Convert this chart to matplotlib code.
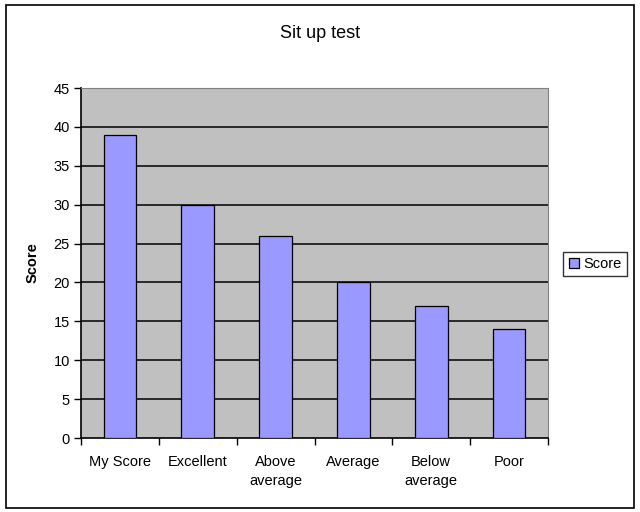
import matplotlib
matplotlib.use("Agg")
import matplotlib.pyplot as plt
from matplotlib.patches import Rectangle
import numpy as np

categories = ["My Score", "Excellent", "Above\naverage", "Average", "Below\naverage", "Poor"]
scores = [39, 30, 26, 20, 17, 14]
yticks = [0, 5, 10, 15, 20, 25, 30, 35, 40, 45]

plt.rcParams['font.family'] = ['Liberation Sans', 'DejaVu Sans']

fig = plt.figure(figsize=(6.4, 5.12), dpi=100)
fig.patch.set_facecolor('white')
fig.patches.append(Rectangle((6/640, 4/512), 628/640, 503/512, transform=fig.transFigure,
                             fill=False, edgecolor='black', linewidth=1.2))

ax = fig.add_axes([81/640, 1-438/512, 467/640, 350/512])
ax.set_facecolor('#C0C0C0')
x = np.arange(len(categories))
bars = ax.bar(x, scores, width=0.42, color='#9999FF', edgecolor='black', linewidth=0.9,
              label='Score', zorder=3)
ax.set_xlim(-0.5, len(categories) - 0.5)
ax.set_ylim(0, 45)
ax.set_yticks(yticks)
ax.set_yticklabels([str(v) for v in yticks], fontsize=10.5)
for v in yticks[1:-1]:
    ax.axhline(v, color='black', linewidth=1.1, zorder=1)

ax.set_xticks(np.arange(len(categories) + 1) - 0.5)
ax.set_xticklabels([])
ax.set_xticks(x, minor=True)
ax.set_xticklabels(categories, minor=True, fontsize=10.5, va='top', linespacing=1.45)
ax.tick_params(axis='x', which='minor', length=0, pad=12)
ax.tick_params(axis='x', which='major', direction='out', length=5, width=1)
ax.tick_params(axis='y', direction='out', length=5, width=1, pad=3)

for s in ['top', 'right']:
    ax.spines[s].set_color('#808080')
    ax.spines[s].set_linewidth(0.8)
for s in ['left', 'bottom']:
    ax.spines[s].set_color('black')
    ax.spines[s].set_linewidth(1.2)

ax.set_ylabel('Score', fontsize=10.5, fontweight='bold', labelpad=10)
fig.text(0.5, 1-33/512, 'Sit up test', ha='center', va='center', fontsize=13)

leg = fig.legend(handles=[bars], labels=['Score'], loc='center', bbox_to_anchor=(595/640, 1-264/512),
                 fontsize=10.5, frameon=True, fancybox=False, handlelength=0.7, handleheight=0.7,
                 handletextpad=0.3, borderpad=0.35, borderaxespad=0)
leg.get_frame().set_edgecolor('black')
leg.get_frame().set_linewidth(1)

fig.savefig('out.png', dpi=100)
